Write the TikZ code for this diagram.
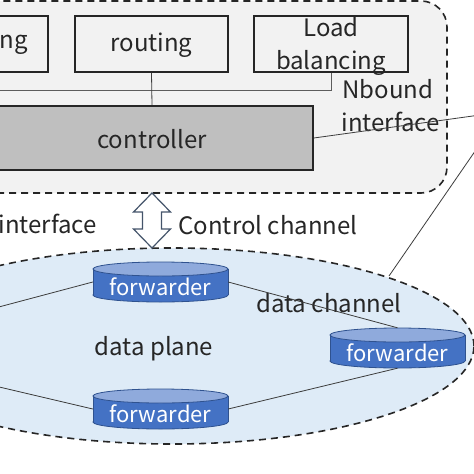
\documentclass[tikz,border=0pt]{standalone}
\usepackage{fontspec}
\newfontfamily\uifont{Noto Sans CJK SC}
\definecolor{txt}{HTML}{262626}
\definecolor{cpfill}{HTML}{F2F2F2}
\definecolor{ctrlfill}{HTML}{BFBFBF}
\definecolor{dpfill}{HTML}{DEEBF7}
\definecolor{cylbody}{HTML}{4472C4}
\definecolor{cyltop}{HTML}{8FAADC}
\definecolor{cylline}{HTML}{2F528F}
\definecolor{arrline}{HTML}{44546A}
\tikzset{
  lbl/.style={font=\uifont\fontsize{24}{33}\selectfont, text=txt, inner sep=0pt},
  fnbox/.style={draw=txt, line width=1.6pt, fill=cpfill, minimum height=56pt, inner sep=0pt},
  ctrlbox/.style={draw=txt, line width=1.6pt, fill=ctrlfill, minimum height=64pt, minimum width=322pt, inner sep=0pt},
  plane/.style={dashed, dash pattern=on 7pt off 5pt, line width=1.6pt, draw=txt},
  conn/.style={draw=txt!90, line width=0.8pt},
  fwdanchor/.style={draw=none, minimum width=135pt, minimum height=40pt, inner sep=0pt},
  fwdtext/.style={font=\uifont\fontsize{22}{24}\selectfont, text=white, inner sep=0pt},
}
\newcommand\fwdcyl[3]{% #1 = x centre, #2 = y top, #3 = name
  \filldraw[fill=cylbody, draw=cylline, line width=0.8pt] (#1,#2+33) ellipse[x radius=67.5pt, y radius=7pt];
  \fill[cylbody] (#1-67.5,#2+7) rectangle (#1+67.5,#2+33);
  \draw[cylline, line width=0.8pt] (#1-67.5,#2+7) -- (#1-67.5,#2+33) (#1+67.5,#2+7) -- (#1+67.5,#2+33);
  \filldraw[fill=cyltop, draw=cylline, line width=0.8pt] (#1,#2+7) ellipse[x radius=67.5pt, y radius=7pt];
  \node[fwdanchor] (#3) at (#1,#2+20) {};
  \node[fwdtext] (#3t) at (#1,#2+25) {forwarder};
}
\begin{document}
\begin{tikzpicture}[x=1pt,y=-1pt]
\useasboundingbox (0,0) rectangle (474,474);
\clip (0,0) rectangle (474,474);
\fill[white] (0,0) rectangle (474,474);
% control plane
\path[plane, fill=cpfill, rounded corners=26pt] (-40,1) rectangle (447,193);
% function boxes
\node[fnbox, minimum width=100pt] (mon) at (-2,44) {};
\node[lbl, anchor=east] (mont) at (28,45) {ng};
\node[fnbox, minimum width=153pt] (rt) at (151.5,44) {};
\node[lbl] (rtt) at (151.5,45) {routing};
\node[fnbox, minimum width=154pt] (lb) at (331,44) {};
\node[lbl, align=center] (lbt) at (331,46) {Load\\balancing};
% controller
\node[ctrlbox] (ctrl) at (152,138) {};
\node[lbl] (ctrlt) at (152,139) {controller};
\coordinate (busl) at (-5,90);
\draw[conn, draw=txt!75] (lb.south) |- (busl);
\draw[conn] (rt.south) -- (ctrl.north);
% northbound
\node[lbl, align=center] (nb) at (388,106) {Nbound\\\ interface};
\coordinate (nbend) at (480,115);
\draw[conn] (ctrl.east) -- (nbend);
% data plane
\path[plane, fill=dpfill] (172,346) ellipse[x radius=302pt, y radius=98pt];
\coordinate (dpr) at (389,276);
\coordinate (dprend) at (480,144);
\draw[conn] (dpr) -- (dprend);
% control channel arrow
\coordinate (cct) at (152,193);
\coordinate (ccb) at (152,248);
\filldraw[fill=white, draw=arrline, line width=1.2pt]
  (cct) -- ++(18.5,19) -- ++(-9,0) -- ++(0,17) -- ++(9,0) -- (ccb)
  -- ++(-18.5,-19) -- ++(9,0) -- ++(0,-17) -- ++(-9,0) -- cycle;
\node[lbl] (cc) at (268,225) {Control channel};
\node[lbl, anchor=east] (sbi) at (97,224) {interface};
% forwarders
\fwdcyl{160.5}{262}{f1}
\fwdcyl{397.5}{328}{f2}
\fwdcyl{160.5}{389}{f3}
\node[lbl] (dc) at (329,303) {data channel};
\node[lbl] (dp) at (154,349) {data plane};
\coordinate (l1) at (-5,308);
\coordinate (l3) at (-5,386);
\draw[conn] (l1) -- (f1.west);
\draw[conn] (l3) -- (f3.west);
\draw[conn] (f1.east) -- (f2.north);
\draw[conn] (f3.east) -- (f2.south);
\end{tikzpicture}
\end{document}
